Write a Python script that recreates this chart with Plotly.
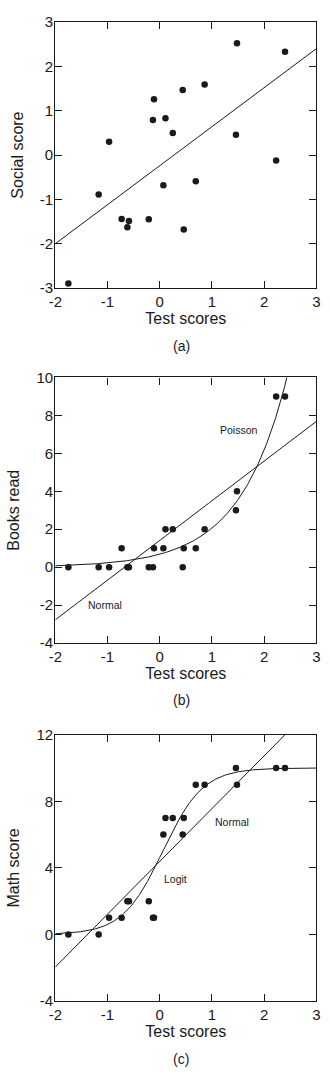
import numpy as np
import plotly.graph_objects as go

# ---- data ----
test_scores = [-1.75, -1.17, -0.97, -0.73, -0.62, -0.59, -0.21, -0.13, -0.11, 0.07,
               0.11, 0.25, 0.44, 0.46, 0.69, 0.86, 1.46, 1.48, 2.23, 2.40]
social_score = [-2.90, -0.89, 0.30, -1.44, -1.63, -1.49, -1.45, 0.79, 1.26, -0.68,
                0.83, 0.50, 1.47, -1.68, -0.59, 1.59, 0.46, 2.52, -0.12, 2.33]
books_read = [0, 0, 0, 1, 0, 0, 0, 0, 1, 1,
              2, 2, 0, 1, 1, 2, 3, 4, 9, 9]
math_score = [0, 0, 1, 1, 2, 2, 2, 1, 1, 6,
              7, 7, 6, 7, 9, 9, 10, 9, 10, 10]

# fitted model coefficients (intercept, slope)
social_normal = [-0.24, 0.88]
books_normal = [1.41, 2.09]
books_poisson = [-0.38, 1.10]
math_normal = [4.39, 3.17]
math_logit = [-0.15, 2.6]
math_max = 10

x_ticks = [-2, -1, 0, 1, 2, 3]
x_ticktext = ["-2", "-1", "0", "1", "2", "3"]
a_yticks = [-3, -2, -1, 0, 1, 2, 3]
a_yticktext = ["-3", "-2", "-1", "0", "1", "2", "3"]
b_yticks = [-4, -2, 0, 2, 4, 6, 8, 10]
b_yticktext = ["-4", "-2", "0", "2", "4", "6", "8", "10"]
c_yticks = [-4, 0, 4, 8, 12]
c_yticktext = ["-4", "0", "4", "8", "12"]

# ---- figure ----
W, H = 330, 1078
INK = "#1a1a1a"
FONT = "Liberation Sans, Arial, sans-serif"

xg = np.linspace(-2, 3, 401)

fig = go.Figure()

def add_points(xa, ya, ys):
    fig.add_trace(go.Scatter(x=test_scores, y=ys, mode="markers", xaxis=xa, yaxis=ya,
                             marker=dict(size=6.5, color=INK), showlegend=False))

def add_curve(xa, ya, yv):
    fig.add_trace(go.Scatter(x=xg, y=yv, mode="lines", xaxis=xa, yaxis=ya,
                             line=dict(color=INK, width=1), showlegend=False))

# panel a
add_curve("x", "y", social_normal[0] + social_normal[1] * xg)
add_points("x", "y", social_score)
# panel b
add_curve("x2", "y2", books_normal[0] + books_normal[1] * xg)
add_curve("x2", "y2", np.exp(books_poisson[0] + books_poisson[1] * xg))
add_points("x2", "y2", books_read)
# panel c
add_curve("x3", "y3", math_normal[0] + math_normal[1] * xg)
add_curve("x3", "y3", math_max / (1 + np.exp(-(math_logit[0] + math_logit[1] * xg))))
add_points("x3", "y3", math_score)

def py(p):
    return 1 - p / H

xdom = [50 / W, 320 / W]
panels = [
    ("", [13.3, 283.5], [-3, 3], a_yticks, a_yticktext, "Social score"),
    ("2", [374.3, 644.3], [-4, 10], b_yticks, b_yticktext, "Books read"),
    ("3", [737.3, 1008], [-4, 12], c_yticks, c_yticktext, "Math score"),
]

axis_common = dict(showline=True, linecolor=INK, linewidth=1.3, mirror="ticks",
                   ticks="inside", ticklen=7, tickwidth=1.1, tickcolor=INK,
                   showgrid=False, zeroline=False,
                   tickfont=dict(family=FONT, size=15, color=INK))

for suf, (top, bot), yr, yt, ytt, ytitle in panels:
    fig.layout["xaxis" + suf] = dict(
        domain=xdom, range=[-2, 3], anchor="y" + suf,
        tickmode="array", tickvals=x_ticks, ticktext=x_ticktext,
        title=dict(text="Test scores", font=dict(family=FONT, size=16, color=INK), standoff=3),
        **axis_common)
    fig.layout["yaxis" + suf] = dict(
        domain=[py(bot), py(top)], range=yr, anchor="x" + suf,
        tickmode="array", tickvals=yt, ticktext=ytt, ticklabelstandoff=-2,
        title=dict(text=ytitle, font=dict(family=FONT, size=16, color=INK), standoff=12),
        **axis_common)

annos = [
    dict(text="(a)", x=180 / W, y=py(342), xref="paper", yref="paper", size=14),
    dict(text="(b)", x=180 / W, y=py(702), xref="paper", yref="paper", size=14),
    dict(text="(c)", x=180 / W, y=py(1067), xref="paper", yref="paper", size=14),
    dict(text="Poisson", x=1.52, y=7.22, xref="x2", yref="y2", size=10.5),
    dict(text="Normal", x=-1.04, y=-2.01, xref="x2", yref="y2", size=10.5),
    dict(text="Normal", x=1.39, y=6.76, xref="x3", yref="y3", size=10.5),
    dict(text="Logit", x=0.30, y=3.33, xref="x3", yref="y3", size=10.5),
]
for a in annos:
    fig.add_annotation(text=a["text"], x=a["x"], y=a["y"], xref=a["xref"], yref=a["yref"],
                       showarrow=False, xanchor="center", yanchor="middle",
                       font=dict(family=FONT, size=a["size"], color=INK))

fig.update_layout(width=W, height=H, margin=dict(l=0, r=0, t=0, b=0),
                  paper_bgcolor="white", plot_bgcolor="white",
                  font=dict(family=FONT, color=INK))

fig.write_html("out.html")
